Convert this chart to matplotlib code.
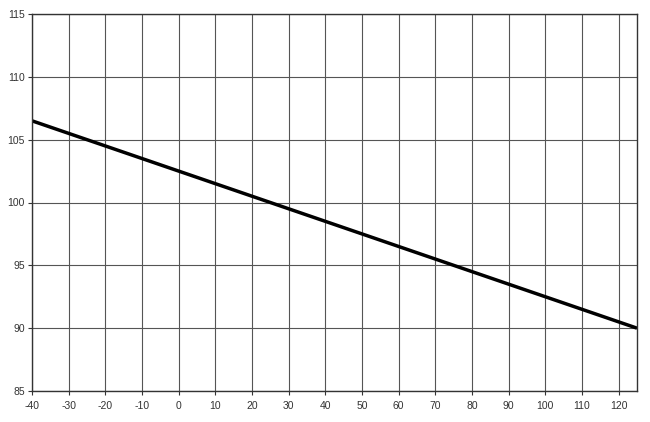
import matplotlib
matplotlib.use("Agg")
import matplotlib.pyplot as plt

x_vals = [-40, 125]
y_vals = [106.5, 90]
x_ticks = list(range(-40, 121, 10))
y_ticks = list(range(85, 116, 5))

plt.rcParams['font.family'] = ['Liberation Sans', 'DejaVu Sans']
plt.rcParams['axes.unicode_minus'] = False
fig = plt.figure(figsize=(6.5, 4.22), dpi=100)
ax = fig.add_axes([32/650, 1 - 391/422, (637-32)/650, (391-14)/422])
ax.set_xlim(-40, 125)
ax.set_ylim(85, 115)
ax.set_xticks(x_ticks)
ax.set_yticks(y_ticks)
ax.grid(True, color='#555555', linewidth=0.8)
ax.set_axisbelow(True)
ax.plot(x_vals, y_vals, color='black', linewidth=2.5, solid_capstyle='butt')
ax.tick_params(axis='both', labelsize=7.5, colors='#333333', length=3, width=0.8, direction='out')
ax.tick_params(axis='x', pad=4)
ax.tick_params(axis='y', pad=2)
for s in ax.spines.values():
    s.set_color('#333333')
    s.set_linewidth(1)
fig.savefig('out.png', dpi=100)
